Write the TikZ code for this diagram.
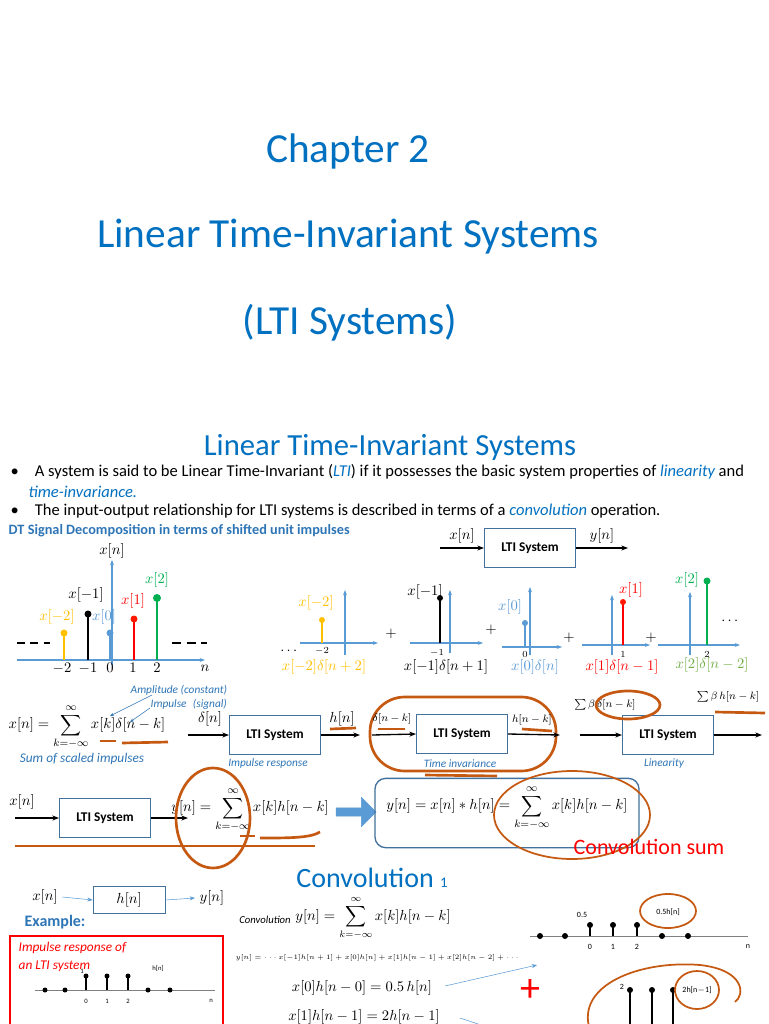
\documentclass[tikz,border=0pt]{standalone}
\usepackage{fontspec}
\usepackage{amsmath}
\setmainfont{Carlito}
\usetikzlibrary{arrows.meta,shapes.arrows}
\definecolor{tblue}{HTML}{0070C0}
\definecolor{bblue}{HTML}{41719C}
\definecolor{ablue}{HTML}{5B9BD5}
\definecolor{iblue}{HTML}{2E75B6}
\definecolor{orng}{HTML}{C65911}
\definecolor{yel}{HTML}{FFC000}
\definecolor{grn}{HTML}{00B050}
\definecolor{olv}{HTML}{70AD47}
\newcommand\fsz[1]{\fontsize{#1}{#1}\selectfont}
\begin{document}
\begin{tikzpicture}[x=0.75pt,y=-0.75pt,
  lti/.style={draw=bblue,line width=1pt,minimum width=68pt,minimum height=29pt,font=\fsz{10}\bfseries,fill=white},
  sig/.style={-{Stealth[length=5pt]},line width=1pt},
  axis/.style={ablue,-{Stealth[length=4pt]},line width=0.8pt},
  oline/.style={draw=orng,line width=2pt},
  note/.style={font=\fsz{8.5}\itshape,text=iblue},
  mt/.style={font=\fsz{11}}]
\useasboundingbox (0,0) rectangle (768,1024);
\fill[white] (0,0) rectangle (768,1024);
% titles
\node[text=tblue,font=\fsz{31}] (t1) at (348,151) {Chapter 2};
\node[text=tblue,font=\fsz{31}] (t2) at (348,237) {Linear Time-Invariant Systems};
\node[text=tblue,font=\fsz{31}] (t3) at (350,323) {(LTI Systems)};
\node[text=tblue,font=\fsz{23}] (st) at (390,447) {Linear Time-Invariant Systems};
\node[anchor=west,font=\fsz{12.4}] (b1) at (6,472) {\textbullet\hspace{12pt}A system is said to be Linear Time-Invariant (\textcolor{tblue}{\itshape LTI}) if it possesses the basic system properties of \textcolor{tblue}{\itshape linearity} and};
\node[anchor=west,font=\fsz{12.4}] (b1b) at (24,492) {\textcolor{tblue}{\itshape time-invariance.}};
\node[anchor=west,font=\fsz{12.4}] (b2) at (6,511) {\textbullet\hspace{12pt}The input-output relationship for LTI systems is described in terms of a \textcolor{tblue}{\itshape convolution} operation.};
\node[anchor=west,font=\fsz{10.7}\bfseries,text=iblue] (dt) at (4,531) {DT Signal Decomposition in terms of shifted unit impulses};
% top-right block
\node[lti] (s0) at (530,548) {LTI System};
\coordinate (s0i) at (440,548); \coordinate (s0o) at (628,548);
\draw[sig] (s0i) -- (s0.west) node[pos=0.5,above,mt] {$x[n]$};
\draw[sig] (s0.east) -- (s0o) node[pos=0.5,above,mt] {$y[n]$};
% left stem plot
\draw[axis] (17,660) -- (205,660);
\draw[axis] (112,665) -- (112,560);
\node[mt] (xn) at (112,551) {$x[n]$};
\draw[yel,line width=1.3pt] (64,660)--(64,633); \fill[yel] (64,633) circle (3.5);
\draw[black,line width=1pt] (88,660)--(88,614); \fill[black] (88,614) circle (3.5);
\draw[ablue,line width=1.3pt] (110,660)--(110,633); \fill[ablue] (110,633) circle (3.5);
\draw[red,line width=1.3pt] (134,660)--(134,619); \fill[red!80!orange] (134,619) circle (3.5);
\draw[grn,line width=1.6pt] (157,660)--(157,598); \fill[grn] (157,598) circle (4);
\node[mt,text=yel] (l1) at (57,617) {$x[-2]$};
\node[mt] (l2) at (86,595) {$x[-1]$};
\node[mt,text=ablue] (l3) at (104,617) {$x[0]$};
\node[mt,text=red] (l4) at (133,601) {$x[1]$};
\node[mt,text=grn] (l5) at (157,580) {$x[2]$};
\draw[line width=0.8pt,dash pattern=on 6pt off 4pt] (17,643)--(50,643);
\draw[line width=1.4pt,dash pattern=on 7pt off 4pt] (172,643)--(207,643);
\foreach \xx/\lab in {62/{-2},88/{-1},110/0,133/1,157/2}{\node[mt] at (\xx,668) {$\lab$};}
\node[mt] (nlab) at (205,668) {$n$};
% decomposition
\node[mt] (d0) at (290,651) {$\cdots$};
\draw[axis] (300,643)--(378,643); \draw[axis] (345,655)--(345,590);
\draw[yel,line width=1.3pt] (322,643)--(322,620); \fill[yel] (322,620) circle (3);
\node[mt,text=yel] (a1) at (316,603) {$x[-2]$};
\node[font=\fsz{7}] (a1t) at (322,651) {$-2$};
\node[mt,text=yel] (a1b) at (324,667) {$x[-2]\delta[n+2]$};
\node[mt] (p1) at (391,634) {$+$};
\draw[axis] (410,643)--(483,643); \draw[axis] (450,653)--(450,590);
\draw[black,line width=1.3pt] (440,643)--(440,598); \fill[black] (440,598) circle (3);
\node[mt] (a2) at (425,592) {$x[-1]$};
\node[font=\fsz{7}] (a2t) at (437,653) {$-1$};
\node[mt] (a2b) at (446,667) {$x[-1]\delta[n+1]$};
\node[mt] (p2) at (491,630) {$+$};
\draw[axis] (502,647)--(562,647); \draw[axis] (530,655)--(530,587);
\draw[ablue,line width=1.1pt] (525,647)--(525,623); \fill[ablue] (525,623) circle (3);
\node[mt,text=ablue] (a3) at (510,607) {$x[0]$};
\node[font=\fsz{7}] (a3t) at (525,654) {$0$};
\node[mt,text=ablue] (a3b) at (535,667) {$x[0]\delta[n]$};
\node[mt] (p3) at (569,638) {$+$};
\draw[axis] (582,645)--(650,645); \draw[axis] (612,655)--(612,595);
\draw[red,line width=1.3pt] (623,645)--(623,602); \fill[red!80!orange] (623,602) circle (3);
\node[mt,text=red] (a4) at (631,590) {$x[1]$};
\node[font=\fsz{7}] (a4t) at (623,654) {$1$};
\node[mt,text=red] (a4b) at (622,667) {$x[1]\delta[n-1]$};
\node[mt] (p4) at (651,638) {$+$};
\draw[axis] (658,645)--(740,645); \draw[axis] (690,655)--(690,592);
\draw[grn,line width=1.6pt] (707,645)--(707,581); \fill[grn] (707,581) circle (3.5);
\node[mt,text=grn] (a5) at (687,580) {$x[2]$};
\node[font=\fsz{7}] (a5t) at (707,654) {$2$};
\node[mt,text=olv] (a5b) at (712,665) {$x[2]\delta[n-2]$};
\node[mt] (d5) at (731,621) {$\cdots$};
% row 3
\node[mt] (dec) at (87,727) {$\displaystyle x[n]=\sum_{k=-\infty}^{\infty}x[k]\delta[n-k]$};
\draw[oline] (100,741)--(116,741); \draw[oline] (122,743)--(168,742);
\node[note,anchor=west] (amp) at (126,690) {Amplitude (constant)};
\node[note,anchor=west] (imp) at (146,704) {Impulse\,\, (signal)};
\coordinate (ampe) at (110,716); \coordinate (impe) at (130,722);
\coordinate (amps) at (152,695); \coordinate (imps) at (150,708);
\draw[iblue,-{Stealth[length=3pt]}] (amps) -- (ampe);
\draw[iblue,-{Stealth[length=3pt]}] (imps) -- (impe);
\node[font=\fsz{10}\itshape,text=iblue] (sum) at (82,759) {Sum of scaled impulses};
\node[lti] (s1) at (275,735) {LTI System};
\coordinate (s1i) at (188,735); \coordinate (s1o) at (360,735);
\draw[sig] (s1i) -- (s1.west); \draw[sig] (s1.east) -- (s1o);
\node[mt] (dn) at (210,719) {$\delta[n]$};
\node[mt] (hn) at (342,719) {$h[n]$};
\draw[oline] (330,729)--(356,728);
\node[note] (ir) at (268,763) {Impulse response};
\draw[oline,rounded corners=26pt] (370,697) rectangle (556,771);
\node[lti] (s2) at (462,734) {LTI System};
\coordinate (s2i) at (372,735); \coordinate (s2o) at (560,735);
\draw[sig] (s2i) -- (s2.west); \draw[sig] (s2.east) -- (s2o);
\node[font=\fsz{8}] (dk) at (392,719) {$\delta[n-k]$};
\node[font=\fsz{8}] (hk) at (532,720) {$h[n-k]$};
\draw[oline] (378,729)--(405,729); \draw[oline] (522,729)--(552,731);
\node[note] (ti) at (460,764) {Time invariance};
\draw[oline] (425,775)--(497,776);
\node[lti] (s3) at (668,735) {LTI System};
\coordinate (s3i) at (580,735); \coordinate (s3o) at (762,735);
\draw[sig] (s3i) -- (s3.west); \draw[sig] (s3.east) -- (s3o);
\node[font=\fsz{8}] (lb1) at (605,705) {$\sum\beta\,\delta[n-k]$};
\draw[oline] (628,705) ellipse (32 and 14);
\node[font=\fsz{8}] (lb2) at (728,697) {$\sum\beta\,h[n-k]$};
\draw[oline] (715,712)--(765,713);
\node[note] (lin) at (664,764) {Linearity};
% row 4
\node[lti] (s4) at (105,818) {LTI System};
\coordinate (s4i) at (15,818); \coordinate (s4o) at (188,818);
\draw[sig] (s4i) -- (s4.west); \draw[sig] (s4.east) -- (s4o);
\node[mt] (xn4) at (22,802) {$x[n]$};
\node[mt] (ys) at (250,810) {$\displaystyle y[n]=\sum_{k=-\infty}^{\infty}x[k]h[n-k]$};
\draw[oline] (213,818) ellipse (37 and 50);
\draw[oline] (15,846)--(315,846);
\draw[oline] (240,836)--(255,836); \draw[oline] (260,838) .. controls (290,838) and (310,838) .. (320,832);
\node[single arrow,fill=ablue,draw=ablue,minimum height=30pt,minimum width=22pt,single arrow head extend=3pt,inner sep=1pt] (bar) at (354,812) {};
\node[draw=bblue,line width=1pt,rounded corners=8pt,minimum width=198pt,minimum height=52pt] (cb) at (507,813) {};
\node[mt] (cf) at (507,808) {$\displaystyle y[n]=x[n]*h[n]=\sum_{k=-\infty}^{\infty}x[k]h[n-k]$};
\draw[oline,line width=1.3pt] (572,815) ellipse (78 and 44);
\node[font=\fsz{16.5},text=red] (cs) at (649,847) {Convolution sum};
% row 5
\node[draw=bblue,minimum width=54pt,minimum height=20pt,mt] (hb) at (129,900) {$h[n]$};
\node[mt] (x5) at (45,897) {$x[n]$};
\node[mt] (y5) at (212,898) {$y[n]$};
\draw[ablue,-{Stealth[length=4pt]}] (x5.east) -- (hb.west);
\draw[ablue,-{Stealth[length=4pt]}] (hb.east) -- (y5.west);
\node[text=tblue,font=\fsz{21}] (cv) at (372,878) {Convolution \fsz{11}1};
\node[font=\fsz{12}\bfseries,text=iblue] (ex) at (55,922) {Example:};
\draw[red,line width=1pt] (10,936) rectangle (223,1030);
\node[font=\fsz{10}\itshape,text=red,anchor=west] (ir1) at (14,948) {Impulse response of};
\node[font=\fsz{10}\itshape,text=red,anchor=west] (ir2) at (14,966) {an LTI system};
\node[font=\fsz{5}] (hnl) at (158,969) {h[n]};
\draw[gray] (35,990)--(215,990);
\foreach \xx in {45,65,148,170}{\fill (\xx,990) circle (2.5);}
\foreach \xx in {86,107,128}{\draw[line width=1pt] (\xx,990)--(\xx,976); \fill (\xx,976) circle (2.5);}
\node[font=\fsz{5}] (one) at (82,971) {1};
\foreach \xx/\lab in {86/0,107/1,128/2}{\node[font=\fsz{5}] at (\xx,1001) {\lab};}
\node[font=\fsz{5}] at (211,1001) {n};
\node[font=\fsz{8}\itshape] (cvl) at (265,920) {Convolution};
\node[font=\fsz{10.5}] (cvf) at (373,918) {$\displaystyle y[n]=\sum_{k=-\infty}^{\infty}x[k]h[n-k]$};
\node[font=\fsz{5.5}] (lg) at (378,958) {$y[n]=\cdots x[-1]h[n+1]+x[0]h[n]+x[1]h[n-1]+x[2]h[n-2]+\cdots$};
\node[mt] (e1) at (362,988) {$x[0]h[n-0]=0.5\,h[n]$};
\node[mt] (e2) at (364,1017) {$x[1]h[n-1]=2h[n-1]$};
\coordinate (e1s) at (445,986); \coordinate (e2s) at (460,1018);
\coordinate (e1t) at (537,965); \coordinate (e2t) at (490,1028);
\draw[ablue,-{Stealth[length=4pt]}] (e1s) -- (e1t);
\draw[ablue] (e2s) -- (e2t);
\node[text=red,font=\fsz{30}] (plus) at (530,990) {+};
\draw[gray] (530,936)--(748,936);
\foreach \xx in {540,565,662,688}{\fill (\xx,936) circle (3);}
\foreach \xx in {590,613,637}{\draw[line width=1pt] (\xx,936)--(\xx,925); \fill (\xx,925) circle (3);}
\node[font=\fsz{6}] at (582,915) {0.5};
\foreach \xx/\lab in {590/0,613/1,637/2}{\node[font=\fsz{6}] at (\xx,947) {\lab};}
\node[font=\fsz{6}] at (748,947) {n};
\node[font=\fsz{6}] (hl1) at (668,912) {0.5h[n]};
\draw[oline,line width=1.3pt] (668,911) ellipse (28 and 17);
\foreach \xx in {630,652,673}{\draw[line width=1.2pt] (\xx,1030)--(\xx,990); \fill (\xx,990) circle (3);}
\node[font=\fsz{6}] at (622,987) {2};
\node[font=\fsz{6}] (hl2) at (697,990) {2h[n$-$1]};
\draw[oline,line width=1.3pt] (697,990) ellipse (22 and 19);
\draw[oline,line width=1.3pt] (590,1030) .. controls (575,985) and (640,960) .. (700,965) .. controls (745,970) and (745,995) .. (735,1002);
\end{tikzpicture}
\end{document}
